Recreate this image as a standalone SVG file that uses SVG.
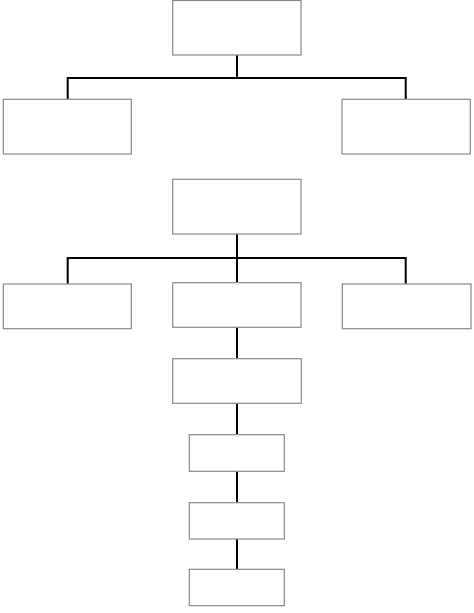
<svg xmlns="http://www.w3.org/2000/svg" width="474" height="613" viewBox="0 0 474 613">
<style>
.box{fill:#fff;stroke:#8a8a8a;stroke-width:1.2}
.conn{fill:none;stroke:#000;stroke-width:2}
</style>
<rect width="474" height="613" fill="#fff"/>
<g id="connectors">
<path class="conn" d="M237 55V78M67.7 99V78H405.7V99"/>
<path class="conn" d="M237 234V283M67.7 284V258H405.7V284"/>
<path class="conn" d="M237 327V359M237 403V435M237 471V503M237 539V569"/>
</g>
<g id="n1"><rect class="box" x="172.7" y="0.5" width="128.3" height="54.5"/></g>
<g id="n2"><rect class="box" x="3.3" y="99.3" width="128" height="54.7"/></g>
<g id="n3"><rect class="box" x="342" y="99.3" width="128.3" height="54.7"/></g>
<g id="n4"><rect class="box" x="172.7" y="179.3" width="128.3" height="54.7"/></g>
<g id="n5"><rect class="box" x="3.3" y="284" width="128" height="44.7"/></g>
<g id="n6"><rect class="box" x="172.7" y="282.7" width="128.3" height="44.6"/></g>
<g id="n7"><rect class="box" x="342.3" y="284" width="128.7" height="44.7"/></g>
<g id="n8"><rect class="box" x="172.7" y="358.7" width="128.6" height="44.6"/></g>
<g id="n9"><rect class="box" x="189.3" y="434.7" width="95" height="36.6"/></g>
<g id="n10"><rect class="box" x="189.3" y="502.7" width="95" height="36.3"/></g>
<g id="n11"><rect class="box" x="189.3" y="569.3" width="95" height="36.4"/></g>
</svg>
